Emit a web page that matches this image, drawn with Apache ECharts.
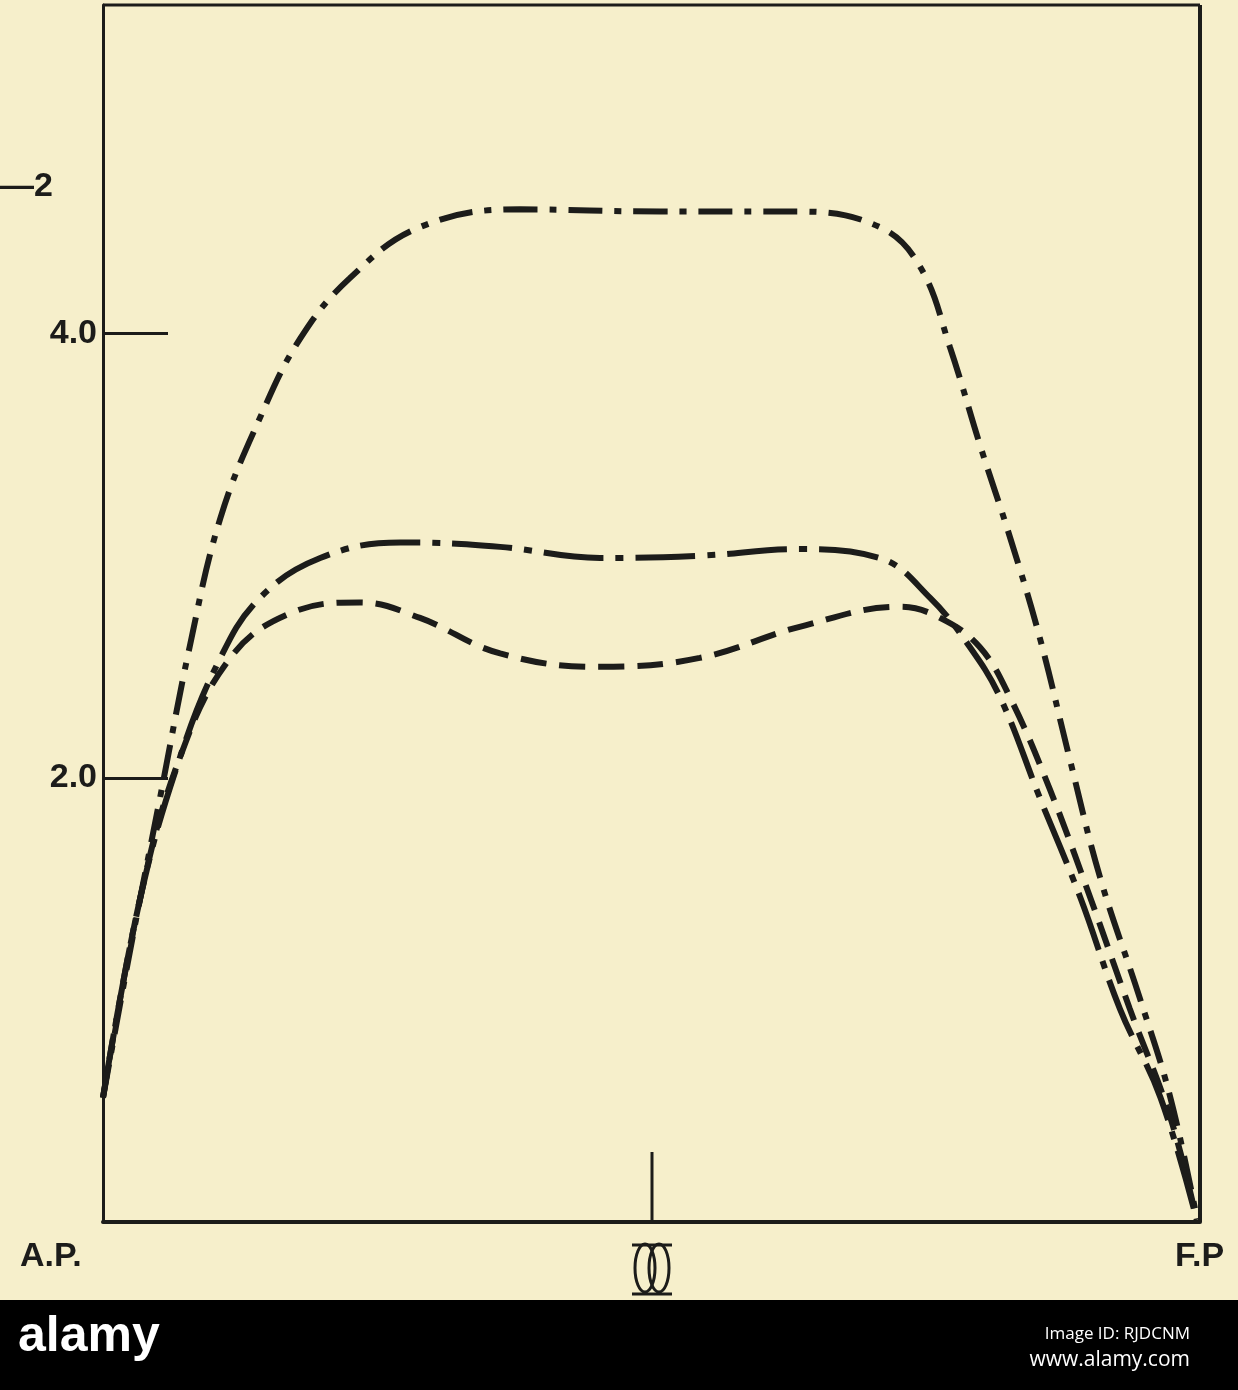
<!DOCTYPE html>
<html>
<head>
<meta charset="utf-8">
<script src="https://cdn.jsdelivr.net/npm/echarts@6/dist/echarts.min.js"></script>
<style>
html, body { margin: 0; padding: 0; background: #f6efcb; }
#chart { width: 1238px; height: 1390px; }
</style>
</head>
<body>
<div id="chart"></div>
<script>
// x: percent of length from A.P. to F.P.
var topX = [0, 2.5, 5.2, 7.9, 10.7, 14.3, 18, 22.5, 28.9, 38, 50.8, 63.5, 70.8, 74.5, 77.2, 80, 82.7, 85.4, 88.1, 90.9, 94.5, 97.3, 99.7]
var topY = [0.56, 1.23, 1.91, 2.59, 3.17, 3.62, 3.98, 4.25, 4.48, 4.56, 4.55, 4.55, 4.48, 4.30, 3.94, 3.49, 3.08, 2.63, 2.09, 1.55, 1.01, 0.56, 0.02]
var midX = [0, 3.4, 7.0, 10.7, 14.3, 19.8, 27.1, 36.2, 45.3, 54.4, 63.5, 70.8, 75.4, 79.0, 81.8, 85.4, 89.1, 92.7, 96.4, 99.7]
var midY = [0.56, 1.46, 2.09, 2.54, 2.81, 2.99, 3.06, 3.04, 2.99, 3.00, 3.03, 2.99, 2.81, 2.59, 2.36, 1.91, 1.46, 0.96, 0.56, 0.01]
var lowX = [0, 3.4, 7.0, 11.6, 17.0, 23.4, 28.9, 36.2, 45.3, 54.4, 63.5, 72.7, 76.3, 79.9, 82.7, 86.3, 90.0, 93.6, 97.3, 99.7]
var lowY = [0.56, 1.46, 2.09, 2.54, 2.74, 2.79, 2.72, 2.56, 2.50, 2.54, 2.68, 2.77, 2.72, 2.59, 2.36, 1.95, 1.46, 0.96, 0.47, 0.01]
var yTickValues = [2, 4]
var yTicks = ['2.0', '4.0']

function pairs(xs, ys) {
    return xs.map(function (x, i) { return [x, ys[i]] })
}

var ink = '#1c1c1a'
var labelFont = 'bold 34px "Liberation Sans", Arial, sans-serif'

var myChart = echarts.init(document.getElementById('chart'))
var option = {
    backgroundColor: '#f6efcb',
    animation: false,
    grid: { left: 103, right: 38, top: 5, bottom: 168 },
    xAxis: {
        type: 'value', min: 0, max: 100,
        axisLine: { lineStyle: { color: ink, width: 4 } },
        axisTick: { show: false }, axisLabel: { show: false }, splitLine: { show: false }
    },
    yAxis: {
        type: 'value', min: 0, max: 5.48,
        axisLine: { show: true, lineStyle: { color: ink, width: 3 } },
        axisTick: { inside: true, length: 65, customValues: yTickValues, lineStyle: { color: ink, width: 3 } },
        axisLabel: {
            margin: 6, color: ink, fontSize: 34, fontWeight: 'bold', fontFamily: 'Liberation Sans',
            customValues: yTickValues,
            formatter: function (v) { return yTicks[yTickValues.indexOf(v)] }
        },
        splitLine: { show: false }
    },
    series: [{
        type: 'line', smooth: 0.4, symbol: 'none',
        data: pairs(topX, topY),
        lineStyle: { color: ink, width: 6, type: [34, 12, 7, 12] }
    }, {
        type: 'line', smooth: 0.4, symbol: 'none',
        data: pairs(midX, midY),
        lineStyle: { color: ink, width: 6, type: [60, 12, 8, 12] }
    }, {
        type: 'line', smooth: 0.4, symbol: 'none',
        data: pairs(lowX, lowY),
        lineStyle: { color: ink, width: 6, type: [26, 13] }
    }],
    graphic: [
        // frame top and right
        { type: 'line', shape: { x1: 103, y1: 5, x2: 1200, y2: 5 }, style: { stroke: ink, lineWidth: 3 } },
        { type: 'line', shape: { x1: 1200, y1: 5, x2: 1200, y2: 1222 }, style: { stroke: ink, lineWidth: 4 } },
        // midship tick
        { type: 'line', shape: { x1: 652, y1: 1152, x2: 652, y2: 1222 }, style: { stroke: ink, lineWidth: 3 } },
        { type: 'text', left: 0, top: 170, style: { text: '—2', font: labelFont, fill: ink } },
        { type: 'text', left: 20, top: 1240, style: { text: 'A.P.', font: labelFont, fill: ink } },
        { type: 'text', left: 1175, top: 1240, style: { text: 'F.P', font: labelFont, fill: ink } },
        // midship symbol
        { type: 'ellipse', shape: { cx: 645, cy: 1268, rx: 10, ry: 24 }, style: { fill: 'none', stroke: ink, lineWidth: 3 } },
        { type: 'ellipse', shape: { cx: 659, cy: 1268, rx: 10, ry: 24 }, style: { fill: 'none', stroke: ink, lineWidth: 3 } },
        { type: 'line', shape: { x1: 632, y1: 1245, x2: 672, y2: 1245 }, style: { stroke: ink, lineWidth: 3 } },
        { type: 'line', shape: { x1: 632, y1: 1294, x2: 672, y2: 1294 }, style: { stroke: ink, lineWidth: 3 } },
        // banner
        { type: 'rect', shape: { x: 0, y: 1300, width: 1238, height: 90 }, style: { fill: '#000' } },
        { type: 'text', left: 18, top: 1312, style: { text: 'alamy', font: 'bold 50px "Liberation Sans Narrow", "Liberation Sans", sans-serif', fill: '#fff' } },
        { type: 'text', right: 48, top: 1326, style: { text: 'Image ID: RJDCNM', font: '17px "Open Sans", sans-serif', fill: '#fff' } },
        { type: 'text', right: 48, top: 1350, style: { text: 'www.alamy.com', font: '21px "Open Sans", sans-serif', fill: '#fff' } }
    ]
}
myChart.setOption(option)
</script>
</body>
</html>
